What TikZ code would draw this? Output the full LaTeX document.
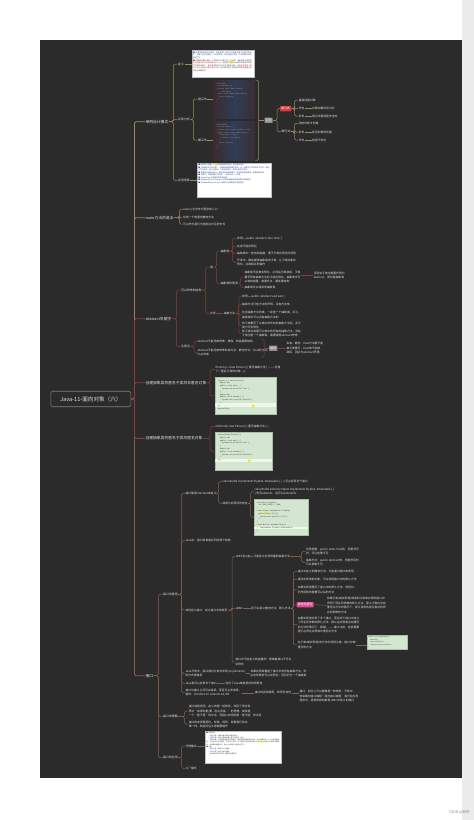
\documentclass[tikz,border=0pt]{standalone}
\usepackage{fontspec}
\setmainfont{Noto Sans CJK SC}
\newfontfamily\codefont{DejaVu Sans Mono}
\XeTeXlinebreaklocale "zh"
\XeTeXlinebreakskip = 0pt plus 0.5pt
\usetikzlibrary{calc}
\definecolor{panel}{HTML}{2B2B2B}
\definecolor{txt}{HTML}{E2E2E2}
\definecolor{colA}{HTML}{9C8A55}
\definecolor{colB}{HTML}{A57B50}
\definecolor{colC}{HTML}{8E3C3C}
\definecolor{colD}{HTML}{87614F}
\definecolor{rootc}{HTML}{8B7B6E}
\definecolor{tagg}{HTML}{8E8E8E}
\definecolor{tagr}{HTML}{D6393B}
\definecolor{tagp}{HTML}{E24C95}
\definecolor{codeg}{HTML}{D3E6CF}
\definecolor{codegb}{HTML}{A9C2A5}
\definecolor{dkl}{HTML}{3A2C2E}
\definecolor{dkm}{HTML}{2F3D58}
\definecolor{dkr}{HTML}{3A2F33}
\definecolor{dkt}{HTML}{C9B48A}
\definecolor{imgblue}{HTML}{2D4A96}
\definecolor{imgred}{HTML}{D03030}
\definecolor{stripc}{HTML}{ECECEC}
\newcommand{\ind}[1]{\hspace*{#1em}}
\begin{document}
\begin{tikzpicture}[x=1pt,y=-1pt,
  lf/.style={anchor=west,text=txt,font=\fontsize{2.8}{4.5}\selectfont,align=left,inner sep=0.3pt},
  sb/.style={anchor=west,text=txt,font=\fontsize{2.9}{4.5}\selectfont,inner sep=0.3pt},
  mb/.style={anchor=west,text=txt,font=\fontsize{3.8}{4.6}\selectfont,inner sep=0.3pt},
  rootbox/.style={draw=rootc,fill=panel,rounded corners=1.5pt,text=txt,font=\fontsize{5.6}{6.5}\selectfont,minimum width=80pt,minimum height=15.5pt,line width=0.6pt,inner sep=1pt},
  cA/.style={draw=colA,line width=0.5pt,rounded corners=1.5pt},
  cB/.style={draw=colB,line width=0.5pt,rounded corners=1.5pt},
  cC/.style={draw=colC,line width=0.5pt,rounded corners=1.5pt},
  cD/.style={draw=colD,line width=0.5pt,rounded corners=1.5pt},
  mA/.style={cA,line width=0.9pt},
  mB/.style={cB,line width=0.9pt},
  mC/.style={cC,line width=0.9pt},
  mD/.style={cD,line width=0.9pt},
  tagbox/.style={anchor=west,text=white,font=\fontsize{2.9}{3.5}\selectfont,inner xsep=1.2pt,inner ysep=0pt,minimum height=5.3pt,rounded corners=0.6pt},
  graybox/.style={tagbox,fill=tagg},
  redbox/.style={tagbox,fill=tagr},
  pinkbox/.style={tagbox,fill=tagp},
  wimg/.style={anchor=north west,fill=white,draw=black!25,line width=0.3pt,inner sep=0pt},
  gimg/.style={anchor=north west,fill=codeg,draw=codegb,line width=0.3pt,inner sep=0pt},
  dimg/.style={anchor=north west,inner sep=0pt,left color=dkl,right color=dkr,middle color=dkm},
  imgt/.style={anchor=north west,inner sep=0pt,align=left,font=\fontsize{1.8}{2.5}\selectfont},
  codet/.style={anchor=north west,inner sep=0pt,align=left,font=\codefont\fontsize{1.8}{2.8}\selectfont,text=black!80},
  dcodet/.style={anchor=north west,inner sep=0pt,align=left,font=\codefont\fontsize{1.5}{2.6}\selectfont,text=dkt},
  hl/.style={fill=yellow!85!orange,draw=none}
]
\useasboundingbox (0,0) rectangle (474,820);
\fill[white] (0,0) rectangle (474,820);
\fill[panel] (40,40) rectangle (462,778);
\fill[stripc] (462,0) rectangle (474,820);

% ---------- root and main branches ----------
\node[rootbox] (root) at (90.8,399) {Java-11-面向对象（六）};
\coordinate (tr) at (134.5,0);
\node[mb] (b1) at (145,121.7) {单例设计模式};
\node[mb] (b2) at (145,217.7) {main方法的语法};
\node[mb] (b3) at (145,318.7) {abstract关键字};
\node[mb] (b4) at (145,382.7) {创建抽象类的匿名子类的非匿名对象};
\node[mb] (b5) at (145,438.3) {创建抽象类的匿名子类的匿名对象};
\node[mb] (b6) at (145,675.7) {接口};
\draw[mA] (root.east) -- (tr |- root.east) |- (b1.west);
\draw[mB] (root.east) -- (tr |- root.east) |- (b2.west);
\draw[mC] (root.east) -- (tr |- root.east) |- (b3.west);
\draw[mC] (root.east) -- (tr |- root.east) |- (b4.west);
\draw[mD] (root.east) -- (tr |- root.east) |- (b6.west);
\draw[mC] (root.east) -- (tr |- root.east) |- (b5.west);

% ---------- branch 1: singleton ----------
\coordinate (k1) at (173.3,0);
\node[sb] (n11) at (177.7,64) {定义};
\node[sb] (n12) at (177.7,119.3) {实现方式};
\node[sb] (n13) at (177.7,180.3) {应用场景};
\foreach \c in {n11,n12,n13} \draw[cA] (b1.east) -- (k1 |- b1.east) |- (\c.west);

\node[wimg,minimum width=62pt,minimum height=26.7pt] (img1) at (191.7,50) {};
\node[imgt,text width=59pt] at (193,51.3) {\textcolor{imgblue}{■ 所谓类的单例设计模式，就是采取一定的方法保证在整个的软件系统中，对某个类只能存在一个对象实例，并且该类只提供一个取得其对象实例的方法。}\\[0.6pt]
\textcolor{black!75}{■ 如果我们要让类在一个虚拟机中只能产生一个对象，我们首先必须将}\textcolor{imgred}{类的构造器的访问权限设置为private}\textcolor{black!75}{，这样就不能用new操作符在类的外部产生类的对象了，但在类内部仍可以产生该类的对象。}\textcolor{imgred}{调用该类的某个静态方法以返回类内部创建的对象}\textcolor{black!75}{，指向类内部产生的该类对象的变量也必须定义成静态的。}};
\fill[hl] (231.7,61.7) circle (1.6);
\draw[cA] (n11.east) -- (n11.east -| img1.west);

\coordinate (k12) at (193.3,0);
\node[sb] (n121) at (197.7,99) {饿汉式};
\node[sb] (n122) at (197.7,140) {懒汉式};
\foreach \c in {n121,n122} \draw[cA] (n12.east) -- (k12 |- n12.east) |- (\c.west);

\node[dimg,minimum width=41.7pt,minimum height=38.3pt] (img2) at (213.3,80) {};
\node[dcodet] at (216,83) {class Bank\{\\
\ind{1}private Bank()\{\}\\
\ind{1}private static Bank instance\\
\ind{3}= new Bank();\\
\ind{1}public static Bank getInstance()\{\\
\ind{2}return instance;\\
\ind{1}\}\\
\}};
\node[dimg,minimum width=41.7pt,minimum height=39pt] (img3) at (213.3,121) {};
\node[dcodet] at (216,124) {class Order\{\\
\ind{1}private Order()\{\}\\
\ind{1}private static Order instance = null;\\
\ind{1}public static Order getInstance()\{\\
\ind{2}if(instance == null)\{\\
\ind{3}instance = new Order();\\
\ind{2}\}\\
\ind{2}return instance;\\
\ind{1}\}\\
\}};
\draw[cA] (n121.east) -- (n121.east -| img2.west);
\draw[cA] (n122.east) -- (n122.east -| img3.west);

\coordinate (kz) at (258.5,0);
\node[graybox] (qb) at (264.3,120.3) {区别};
\draw[cA] (img2.north east) -- (kz |- img2.north east) -- (kz |- img3.south east) -- (img3.south east);
\draw[cA] (kz |- qb.west) -- (qb.west);

\coordinate (kq) at (277,0);
\node[redbox] (ea) at (280,108.7) {饿汉式};
\node[sb] (la) at (281,131.7) {懒汉式};
\foreach \c in {ea,la} \draw[cA] (qb.east) -- (kq |- qb.east) |- (\c.west);

\coordinate (ke) at (294.5,0);
\node[lf] (e1) at (298.3,100) {直接创建对象};
\node[lf] (e2) at (298.3,108.3) {坏处};
\node[lf] (e2b) at (311.7,108.3) {对象加载时间过长};
\node[lf] (e3) at (298.3,116) {好处};
\node[lf] (e3b) at (311.7,116) {饿汉式是线程安全的};
\foreach \c in {e1,e2,e3} \draw[cA] (ea.east) -- (ke |- ea.east) |- (\c.west);
\draw[cA] (e2.east) -- (e2b.west);
\draw[cA] (e3.east) -- (e3b.west);

\node[lf] (l1) at (298.3,123.3) {用的时候才创建};
\node[lf] (l2) at (298.3,132) {好处};
\node[lf] (l2b) at (311.7,132) {延迟对象的创建};
\node[lf] (l3) at (298.3,140) {坏处};
\node[lf] (l3b) at (311.7,140) {线程不安全};
\foreach \c in {l1,l2,l3} \draw[cA] (la.east) -- (ke |- la.east) |- (\c.west);
\draw[cA] (l2.east) -- (l2b.west);
\draw[cA] (l3.east) -- (l3b.west);

\node[wimg,minimum width=74pt,minimum height=34pt] (img4) at (196.7,162.7) {};
\node[imgt,text width=71pt,text=imgblue] at (198.2,164) {■ 网站的计数器，一般也是单例模式实现，否则难以同步。\\
■ 应用程序的日志应用，一般都使用单例模式实现，这一般是由于共享的日志文件一直处于打开状态，因为只能有一个实例去操作，否则内容不好追加。\\
■ 数据库连接池的设计一般也是采用单例模式，因为数据库连接是一种数据库资源。\\
■ 项目中，读取配置文件的类，一般也只有一个对象。\\
■ Application 也是单例的典型应用\\
■ Windows的Task Manager (任务管理器)就是很典型的单例模式\\
■ Windows的Recycle Bin (回收站)也是典型的单例应用。};
\fill[hl] (216,164.3) circle (1.5);
\draw[cA] (n13.east) -- (n13.east -| img4.west);

% ---------- branch 2: main ----------
\coordinate (k2) at (179.3,0);
\node[lf] (n21) at (182.7,209.3) {main( )方法作为程序的入口};
\node[lf] (n22) at (182.7,217) {也是一个普通的静态方法};
\node[lf] (n23) at (182.7,224) {可以作为我们与控制台交互的方式};
\foreach \c in {n21,n22,n23} \draw[cB] (b2.east) -- (k2 |- b2.east) |- (\c.west);

% ---------- branch 3: abstract ----------
\coordinate (k3) at (176.7,0);
\node[sb] (n31) at (180.7,290) {可以修饰的结构};
\node[sb] (n32) at (180.7,346.7) {注意点};
\foreach \c in {n31,n32} \draw[cC] (b3.east) -- (k3 |- b3.east) |- (\c.west);

\coordinate (k31) at (205.5,0);
\node[sb] (n311) at (209.5,267) {类};
\node[sb] (n312) at (209.5,313.3) {方法};
\foreach \c in {n311,n312} \draw[cC] (n31.east) -- (k31 |- n31.east) |- (\c.west);

\coordinate (k311) at (216.5,0);
\node[sb] (n3111) at (220,251) {抽象类};
\node[sb] (n3112) at (220,283.3) {抽象类的使用};
\foreach \c in {n3111,n3112} \draw[cC] (n311.east) -- (k311 |- n311.east) |- (\c.west);

\coordinate (k3111) at (232.7,0);
\node[lf] (c1) at (236.7,238.3) {举例};
\node[lf] (c1b) at (246,238.3) {public abstract class Test \{ \}};
\node[lf] (c2) at (236.7,246) {此类不能实例化};
\node[lf] (c3) at (236.7,253.3) {抽象类中一定有构造器，便于子类实例化时调用};
\node[lf] (c4) at (236.7,262.5) {开发中，都会提供抽象类的子类，让子类对象实\\例化，完成相关的操作};
\foreach \c in {c1,c2,c3,c4} \draw[cC] (n3111.east) -- (k3111 |- n3111.east) |- (\c.west);
\draw[cC] (c1.east) -- (c1b.west);

\coordinate (k3112) at (240.7,0);
\node[lf] (d1) at (244,277) {抽象类不能被实例化，必须由子类继承，子类\\重写所有抽象方法后才能实例化，抽象类中可\\以有构造器、普通方法、属性等结构};
\node[lf] (d1b) at (313.3,275.7) {否则该子类也需要声明为\\abstract，即也是抽象类};
\node[lf] (d2) at (244,287.3) {抽象类可以继承非抽象类};
\foreach \c in {d1,d2} \draw[cC] (n3112.east) -- (k3112 |- n3112.east) |- (\c.west);
\draw[cC] (d1.east |- d1b.west) -- (d1b.west);

\node[lf] (n312b) at (223.3,313.3) {抽象方法};
\draw[cC] (n312.east) -- (n312b.west);
\coordinate (k312) at (238.8,0);
\node[lf] (m1) at (241.7,296.7) {举例};
\node[lf] (m1b) at (251,296.7) {public abstract void eat( ) ;};
\node[lf] (m2) at (241.7,304.3) {抽象方法只有方法的声明，没有方法体};
\node[lf] (m3) at (241.7,314.8) {包含抽象方法的类，一定是一个抽象类。反之，\\抽象类中可以没有抽象方法的};
\node[lf] (m4) at (241.7,325.5) {若子类重写了父类中的所有的抽象方法后，此子\\类方可实例化};
\node[lf] (m5) at (241.7,333.3) {若子类没有重写父类中的所有的抽象方法，则此\\子类也是一个抽象类，需要使用abstract修饰};
\foreach \c in {m1,m2,m3,m4,m5} \draw[cC] (n312b.east) -- (k312 |- n312b.east) |- (\c.west);
\draw[cC] (m1.east) -- (m1b.west);

\coordinate (k32) at (194,0);
\node[lf] (p1) at (197,341.7) {abstract不能用来修饰：属性、构造器等结构};
\node[lf] (p2) at (197,352.5) {abstract不能用来修饰私有方法、静态方法、final的方法、\\final的类};
\foreach \c in {p1,p2} \draw[cC] (n32.east) -- (k32 |- n32.east) |- (\c.west);
\coordinate (brT) at (261,339);
\coordinate (brB) at (261,357);
\coordinate (brx) at (264,0);
\node[graybox] (js) at (269,348.3) {解释};
\draw[cC] (brT) -- (brx |- brT) -- (brx |- brB) -- (brB);
\draw[cC] (brx |- js.west) -- (js.west);
\node[lf] (jst) at (286,348.3) {私有、静态、final方法都不能\\被子类重写，final类不能被\\继承，因此与abstract矛盾};
\draw[cC] (js.east) -- (jst.west);

% ---------- branch 4 ----------
\coordinate (k4) at (210,0);
\node[lf] (f1) at (215,369.65) {Person p = new Person( )\{ 重写抽象方法 \} ; —— 创建\\了一匿名子类的对象：p};
\node[gimg,minimum width=61pt,minimum height=37pt] (img5) at (215,377.3) {};
\fill[white,opacity=0.65] (215.2,403) rectangle (275.8,406.5);
\node[codet] at (218,379.5) {Person p = new Person()\{\\
\ind{1}@Override\\
\ind{1}public void eat() \{\\
\ind{2}System.out.println("eat");\\
\ind{1}\}\\
\ind{1}@Override\\
\ind{1}public void breath() \{\\
\ind{2}System.out.println("breath");\\
\ind{1}\}\\
\};\\
method1(p);};
\fill[hl] (253.3,406) circle (1.6);
\foreach \c in {f1,img5} \draw[cC] (b4.east) -- (k4 |- b4.east) |- (\c.west);

% ---------- branch 5 ----------
\coordinate (k5) at (210,0);
\node[lf] (g1) at (215,426.7) {method1( new Person( )\{ 重写抽象方法 \} ) ;};
\node[gimg,minimum width=56.7pt,minimum height=38.3pt] (img6) at (215,431.7) {};
\fill[white,opacity=0.65] (215.2,458.7) rectangle (271.5,461.5);
\node[codet] at (218,434) {method1(new Person()\{\\
\ind{1}@Override\\
\ind{1}public void eat() \{\\
\ind{2}System.out.println("eat");\\
\ind{1}\}\\
\ind{1}@Override\\
\ind{1}public void breath() \{\\
\ind{2}System.out.println("breath");\\
\ind{1}\}\\
\});};
\fill[hl] (249.3,460.7) circle (1.6);
\foreach \c in {g1,img6} \draw[cC] (b5.east) -- (k5 |- b5.east) |- (\c.west);

% ---------- branch 6: interface ----------
\coordinate (k6) at (158.3,0);
\node[sb] (n61) at (162.7,594.3) {接口的使用};
\node[sb] (n62) at (162.7,716.7) {接口的理解};
\node[sb] (n63) at (162.7,757.7) {接口的应用};
\foreach \c in {n61,n62,n63} \draw[cD] (b6.east) -- (k6 |- b6.east) |- (\c.west);

\coordinate (k61) at (181.7,0);
\node[lf] (n611) at (185,493.3) {接口使用interface来定义};
\node[lf] (n612) at (185,540.7) {Java中，接口和类是并列的两个结构};
\node[lf] (n613) at (185,610) {如何定义接口：定义接口中的成员};
\node[lf] (n614) at (185,673.5) {Java开发中，接口通过让类去实现(implements)\\的方式来使用};
\node[lf] (n615) at (185,683.3) {Java类可以实现多个接口};
\node[lf] (n616) at (185,692.75) {接口与接口之间可以继承，而且可以多继承，\\格式：interface CC extends AA, BB};
\foreach \c in {n611,n612,n613,n614,n615,n616} \draw[cD] (n61.east) -- (k61 |- n61.east) |- (\c.west);

\coordinate (k611) at (218.5,0);
\node[lf] (n6111) at (222,481.7) {class Bullet implements Flyable, Attackable \{ \} \ //可以实现多个接口};
\node[lf] (n6112) at (222,503.3) {继承与实现同时存在};
\foreach \c in {n6111,n6112} \draw[cD] (n611.east) -- (k611 |- n611.east) |- (\c.west);
\coordinate (k6112) at (250.5,0);
\node[lf] (n61121) at (254,491.65) {class Bullet extends Object implements Flyable, Attackable \{ \}\\ //先写extends，后写implements};
\node[gimg,minimum width=54.3pt,minimum height=35.7pt] (img7) at (254,499.3) {};
\fill[white,opacity=0.65] (254.2,526.7) rectangle (308.1,529.3);
\node[codet] at (256.5,501.5) {interface Flyable\{\\
\ind{1}int MAX\_SPEED = 7900;\\
\}\\
class Plane implements Flyable\{\\
\ind{1}public void fly()\{\\
\ind{2}System.out.println("fly");\\
\ind{1}\}\\
\}\\
class Bullet extends Object\\
\ind{2}implements Flyable,Attackable\{\\
\}};
\fill[hl] (265.7,512.3) circle (1.6);
\foreach \c in {n61121,img7} \draw[cD] (n6112.east) -- (k6112 |- n6112.east) |- (\c.west);

\coordinate (k613) at (232,0);
\node[lf] (n6131) at (235,556.7) {JDK7及以前};
\node[lf] (n6132) at (253,556.7) {只能定义全局常量和抽象方法};
\node[lf] (n6133) at (235,608.3) {JDK8};
\node[lf] (n6134) at (250.7,608.3) {还可以定义静态方法、默认方法};
\node[lf] (n6135) at (235,662.15) {接口中不能定义构造器的！意味着接口不可以\\实例化};
\foreach \c in {n6131,n6133,n6135} \draw[cD] (n613.east) -- (k613 |- n613.east) |- (\c.west);
\draw[cD] (n6131.east) -- (n6132.west);
\draw[cD] (n6133.east) -- (n6134.west);

\coordinate (k6132) at (301.7,0);
\node[lf] (s1) at (305.5,551.25) {全局常量：public static final的，但是书写\\时，可以省略不写};
\node[lf] (s2) at (305.5,562.25) {抽象方法：public abstract的，但是书写时\\可以省略不写};
\foreach \c in {s1,s2} \draw[cD] (n6132.east) -- (k6132 |- n6132.east) |- (\c.west);

\coordinate (k6134) at (293.3,0);
\node[lf] (h1) at (297.3,571.7) {接口中定义的静态方法，只能通过接口来调用};
\node[lf] (h2) at (297.3,579.3) {通过实现类的对象，可以调用接口中的默认方法};
\node[lf] (h3) at (297.3,589.85) {如果实现类重写了接口中的默认方法，调用时，\\仍然调用的是重写以后的方法};
\node[pinkbox] (h4) at (296.5,604.8) {类优先原则};
\node[lf] (h5) at (297.3,624.7) {如果实现类实现了多个接口，而这多个接口中定义\\了同名同参数的默认方法，那么在实现类没有重写\\此方法的情况下，报错。—— 接口冲突。这就需要\\我们必须在实现类中重写此方法};
\node[lf] (h6) at (297.3,644.85) {在子类(或实现类)的方法中调用父类、接口中被\\重写的方法};
\foreach \c in {h1,h2,h3,h4,h5,h6} \draw[cD] (n6134.east) -- (k6134 |- n6134.east) |- (\c.west);
\node[lf] (h4r) at (326.5,605.3) {如果子类(或实现类)继承的父类和实现的接口中\\声明了同名同参数的默认方法，那么子类在没有\\重写此方法的情况下，默认调用的是父类中的同\\名同参数的方法};
\draw[cD] (h4.east) -- (h4r.west);
\node[gimg,minimum width=40.6pt,minimum height=14pt] (img8) at (366.7,635) {};
\node[codet,font=\codefont\fontsize{1.5}{2.5}\selectfont] at (368.5,636.5) {public void myMethod()\{\\
\ind{1}method3();\\
\ind{1}super.method3();\\
\ind{1}CompareA.super.method3();\\
\}};
\draw[cD] (h6.east) -- (h6.east -| img8.west);

\node[lf] (n614r) at (250,673.5) {如果实现类覆盖了接口中的所有抽象方法，则\\此实现类就可以实例化；否则仍为一个抽象类};
\draw[cD] (n614.east) -- (n614r.west);
\node[lf] (n615r) at (225,683.3) {弥补了Java单继承性的局限性};
\draw[cD] (n615.east) -- (n615r.west);
\node[lf] (n616m) at (254.3,692.75) {接口的具体使用，体现多态性};
\node[lf] (n616r) at (299,696.1) {接口，实际上可以看做是一种规范。开发中，\\体会面向接口编程！面向接口编程：我们在应用\\程序中，调用的结构都是JDBC中定义的接口};
\draw[cD] (n616.east) -- (n616m.west);
\draw[cD] (n616m.east) -- (n616m.east -| n616r.west);

\coordinate (k62) at (184.5,0);
\node[lf] (q1) at (188.3,711) {接口就是规范，定义的是一组规则，体现了现实世\\界中“如果你是/要...则必须能...”的思想。继承是\\一个“是不是”的关系，而接口实现则是“能不能”的关系};
\node[lf] (q2) at (188.3,724.2) {接口的本质是契约、标准、规范，就像我们的法\\律一样。制定好后大家都要遵守};
\foreach \c in {q1,q2} \draw[cD] (n62.east) -- (k62 |- n62.east) |- (\c.west);

\coordinate (k63) at (181.7,0);
\node[lf] (n631) at (185,746) {代理模式};
\node[lf] (n632) at (185,768.3) {工厂模式};
\foreach \c in {n631,n632} \draw[cD] (n63.east) -- (k63 |- n63.east) |- (\c.west);
\node[wimg,minimum width=75.7pt,minimum height=31.7pt] (img9) at (205,731) {};
\node[imgt,text width=73pt,text=black!75,font=\fontsize{1.6}{2.3}\selectfont] at (206.2,732.2) {■ 应用场景：\\
\ind{1}\textcolor{imgblue}{○ 安全代理：}屏蔽对真实角色的直接访问。\\
\ind{1}\textcolor{imgblue}{○ 远程代理：}通过代理类处理远程方法调用（RMI）\\
\ind{1}\textcolor{imgblue}{○ 延迟加载：}先加载轻量级的代理对象，真正需要再加载真实对象。比如你要开发一个大文档查看软件，大文档中有大的图片，在打开文件时，不可能将所有的图片都显示出来，这样就可以使用代理模式，当需要查看图片时，用proxy来进行大图片的打开。\\
■ 分类\\
\ind{1}\textcolor{imgblue}{○ 静态代理}（静态定义代理类）\\
\ind{1}\textcolor{imgblue}{○ 动态代理}（动态生成代理类）\\
\ind{2}JDK自带的动态代理，需要反射等知识};
\fill[hl] (261,741.3) circle (1.5);
\draw[cD] (n631.east) -- (n631.east -| img9.west);

\node[anchor=east,text=black!45,font=\fontsize{3.6}{4}\selectfont,inner sep=0pt] (wm) at (470,812) {CSDN @码农};
\end{tikzpicture}
\end{document}
